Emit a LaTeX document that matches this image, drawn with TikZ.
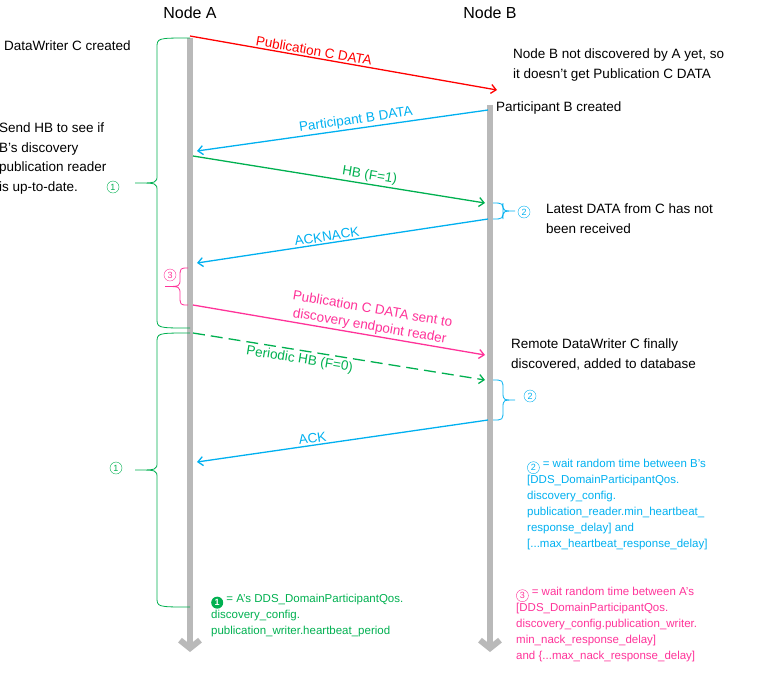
\documentclass[tikz,border=0pt]{standalone}
\usepackage{fontspec}
\setmainfont{Liberation Sans}
\usetikzlibrary{arrows.meta}
\definecolor{msgred}{RGB}{255,0,0}
\definecolor{msgblue}{RGB}{0,176,240}
\definecolor{msggreen}{RGB}{0,176,80}
\definecolor{msgpink}{RGB}{255,51,153}
\tikzset{
% lifelines, messages and notes
lifeline/.style={line width=6pt,draw=gray!55,-{Straight Barb[length=8pt,width=20pt]}},
msg/.style={line width=1.3pt,-{Straight Barb[length=5pt,width=9pt]}},
lbl/.style={sloped,above,inner sep=1.5pt,font=\fontsize{13.5}{15}\selectfont},
txt/.style={align=left,anchor=north west,inner sep=0pt,font=\fontsize{13.5}{19.5}\selectfont},
legend/.style={align=left,anchor=north west,inner sep=0pt,font=\fontsize{11.5}{16}\selectfont}
}
% circled number
\newcommand{\cnum}[2]{\tikz[baseline=-0.7ex]\node[circle,draw=#1,text=#1,inner sep=0pt,minimum size=12pt,font=\fontsize{9}{9}\selectfont]{#2};}
\newcommand{\cnumfill}[2]{\tikz[baseline=-0.7ex]\node[circle,fill=#1,text=white,inner sep=0pt,minimum size=12pt,font=\bfseries\fontsize{9}{9}\selectfont]{#2};}
% side brace: colour, x of ends, x of spine, x of tip, y top, y bottom
\newcommand{\sidebrace}[6]{%
\pgfmathsetmacro{\ym}{(#5+#6)/2}%
\pgfmathsetmacro{\ya}{#5+10}\pgfmathsetmacro{\yb}{\ym-8}%
\pgfmathsetmacro{\yc}{\ym+8}\pgfmathsetmacro{\yd}{#6-10}%
\draw[#1,line width=0.8pt] (#2,#5) .. controls (#3,#5) .. (#3,\ya) -- (#3,\yb)
 .. controls (#3,\ym) .. (#4,\ym) .. controls (#3,\ym) .. (#3,\yc) -- (#3,\yd)
 .. controls (#3,#6) .. (#2,#6);}
\begin{document}
\begin{tikzpicture}[x=1pt,y=-1pt]
\useasboundingbox (0,0) rectangle (778,691);
% lifelines
\node (hA) at (190,13) {\fontsize{16}{18}\selectfont Node A};
\node (hB) at (490,13) {\fontsize{16}{18}\selectfont Node B};
\coordinate (a0) at (190,38);
\coordinate (a1) at (190,652);
\coordinate (b0) at (490,105);
\coordinate (b1) at (490,652);
\draw[lifeline] (a0) -- (a1);
\draw[lifeline] (b0) -- (b1);
% messages
\coordinate (m1s) at (190,36);  \coordinate (m1e) at (497,90);
\coordinate (m2s) at (488,110); \coordinate (m2e) at (197,151);
\coordinate (m3s) at (193,156); \coordinate (m3e) at (485,203);
\coordinate (m4s) at (488,219); \coordinate (m4e) at (197,263);
\coordinate (m5s) at (193,305); \coordinate (m5e) at (485,355);
\coordinate (m6s) at (193,333); \coordinate (m6e) at (485,380);
\coordinate (m7s) at (488,420); \coordinate (m7e) at (197,462);
\draw[msg,msgred] (m1s) -- node[pos=0.4,lbl]{Publication C DATA} (m1e);
\draw[msg,msgblue] (m2s) -- node[pos=0.45,lbl]{Participant B DATA} (m2e);
\draw[msg,msggreen] (m3s) -- node[pos=0.6,lbl]{HB (F=1)} (m3e);
\draw[msg,msgblue] (m4s) -- node[pos=0.55,lbl]{ACKNACK} (m4e);
\draw[msg,msgpink] (m5s) -- node[pos=0.6,lbl,align=center,font=\fontsize{13.5}{17}\selectfont]{Publication C DATA sent to\\discovery endpoint reader} (m5e);
\draw[msg,msggreen,dash pattern=on 12pt off 6pt] (m6s) -- node[pos=0.37,lbl,below=1pt]{Periodic HB (F=0)} (m6e);
\draw[msg,msgblue] (m7s) -- node[pos=0.6,lbl]{ACK} (m7e);
% braces
\sidebrace{msggreen}{190}{157}{135}{38}{328}
\sidebrace{msggreen}{190}{157}{135}{333}{607}
\sidebrace{msgpink}{188}{180}{165}{268}{305}
\sidebrace{msgblue}{493}{503}{515}{203}{219}
\sidebrace{msgblue}{493}{503}{515}{380}{420}
\node (n1a) at (113,187) {\cnum{msggreen}{1}};
\node (n1b) at (116,468) {\cnum{msggreen}{1}};
\node (n3) at (170,275) {\cnum{msgpink}{3}};
\node (n2a) at (524,212) {\cnum{msgblue}{2}};
\node (n2b) at (530,396) {\cnum{msgblue}{2}};
% notes
\node[txt] (t1) at (4,41) {DataWriter C created};
\node[txt] (t2) at (513,49) {Node B not discovered by A yet, so\\it doesn’t get Publication C DATA};
\node[txt] (t3) at (496,102) {Participant B created};
\node[txt] (t4) at (-1,123) {Send HB to see if\\B’s discovery\\publication reader\\is up-to-date.};
\node[txt] (t5) at (546,204) {Latest DATA from C has not\\been received};
\node[txt] (t6) at (511,339) {Remote DataWriter C finally\\discovered, added to database};
% legends
\node[legend,text=msgblue] (l2) at (527,459) {\cnum{msgblue}{2} = wait random time between B’s\\\relax[DDS\_DomainParticipantQos.\\discovery\_config.\\publication\_reader.min\_heartbeat\_\\response\_delay] and\\\relax[...max\_heartbeat\_response\_delay]};
\node[legend,text=msgpink] (l3) at (516,587) {\cnum{msgpink}{3} = wait random time between A’s\\\relax[DDS\_DomainParticipantQos.\\discovery\_config.publication\_writer.\\min\_nack\_response\_delay]\\and \{...max\_nack\_response\_delay]};
\node[legend,text=msggreen] (l1) at (211,594) {\cnumfill{msggreen}{1} = A’s DDS\_DomainParticipantQos.\\discovery\_config.\\publication\_writer.heartbeat\_period};
\end{tikzpicture}
\end{document}
